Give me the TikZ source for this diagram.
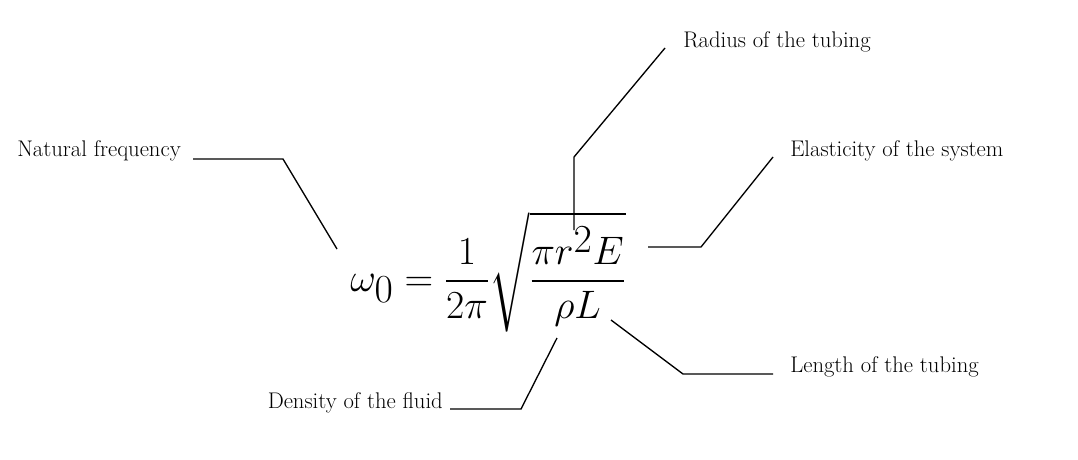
\documentclass[tikz,border=0pt]{standalone}
\usepackage{amsmath}
\tikzset{
    label/.style = {font=\fontsize{17}{20}\selectfont, inner sep=0pt},
    leader/.style = {draw, line width=1pt}
}
\begin{document}
\begin{tikzpicture}[x=0.0264cm,y=-0.0264cm]
    \useasboundingbox (0,0) rectangle (1078,459);
    \node[scale=1.2] (eq) at (488,272) {\fontsize{33}{40}\selectfont $\displaystyle \omega_0=\frac{1}{2\pi}\sqrt{\frac{\pi r^2E}{\rho L}}$};
    % labels
    \node[label, anchor=west] (freq) at (17,151) {Natural frequency};
    \node[label, anchor=west] (radius) at (683,42) {Radius of the tubing};
    \node[label, anchor=west] (elast) at (790,151) {Elasticity of the system};
    \node[label, anchor=west] (length) at (790,367) {Length of the tubing};
    \node[label, anchor=east] (density) at (443,403) {Density of the fluid};
    % leader lines
    \coordinate (f1) at (193,159); \coordinate (f2) at (283,159); \coordinate (f3) at (337,249);
    \coordinate (r1) at (665,48); \coordinate (r2) at (574,157); \coordinate (r3) at (574,230);
    \coordinate (e1) at (773,157); \coordinate (e2) at (701,247); \coordinate (e3) at (648,247);
    \coordinate (l1) at (611,320); \coordinate (l2) at (683,374); \coordinate (l3) at (773,374);
    \coordinate (d1) at (557,338); \coordinate (d2) at (521,409); \coordinate (d3) at (450,409);
    \draw[leader] (f1) -- (f2) -- (f3);
    \draw[leader] (r1) -- (r2) -- (r3);
    \draw[leader] (e1) -- (e2) -- (e3);
    \draw[leader] (l1) -- (l2) -- (l3);
    \draw[leader] (d1) -- (d2) -- (d3);
\end{tikzpicture}
\end{document}
